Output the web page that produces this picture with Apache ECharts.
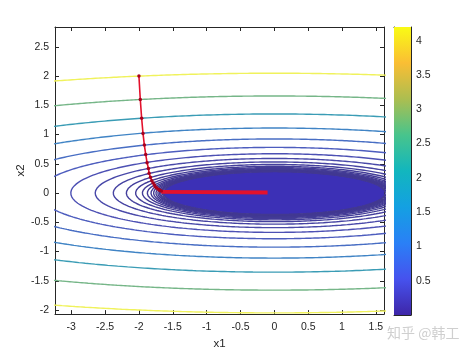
<!DOCTYPE html>
<html>
<head>
<meta charset="utf-8">
<script src="https://cdn.jsdelivr.net/npm/echarts@6/dist/echarts.min.js"></script>
<style>html,body{margin:0;padding:0;background:#fff}#c{width:474px;height:355px}</style>
</head>
<body>
<div id="c"></div>
<script>
// ---- data ----
// contour shape: f(x1,x2) = quadA*x1^2 + quadB*x2^2
const quadA = 0.05;
const quadB = 1;
// contour levels (one per visible contour line, outermost first)
const contourLevels = [4.20, 2.756, 1.830, 1.237, 0.856, 0.610, 0.452, 0.350, 0.283, 0.239,
  0.210, 0.190, 0.176, 0.166, 0.159, 0.153, 0.148, 0.144, 0.141, 0.137, 0.134];
// level bounding the solid dense region (many packed contours)
const denseLevel = [0.134];
// gradient-descent path (red)
const pathX1 = [-2.00, -1.98, -1.96, -1.94, -1.92, -1.90, -1.88, -1.86, -1.85, -1.83, -1.81,
  -1.79, -1.77, -1.76, -1.74, -1.72, -1.70, -1.69, -1.67];
const pathX2 = [2.00, 1.60, 1.28, 1.02, 0.82, 0.66, 0.52, 0.42, 0.34, 0.27, 0.21,
  0.17, 0.14, 0.11, 0.09, 0.07, 0.056, 0.045, 0.036];
const tailX1 = [-1.67, -0.10];
const tailX2 = [0.02, 0.01];
const xTicks = [-3, -2.5, -2, -1.5, -1, -0.5, 0, 0.5, 1, 1.5];
const yTicks = [-2, -1.5, -1, -0.5, 0, 0.5, 1, 1.5, 2, 2.5];
const cbTicks = [0.5, 1, 1.5, 2, 2.5, 3, 3.5, 4];
const cbMin = 0.0005;
const cbMax = 4.2;
const xRange = [-3.24, 1.62];
const yRange = [-2.07, 2.84];

// ---- colormap (parula-like) ----
const parula = [
  [0.000, [62, 38, 168]],
  [0.125, [70, 82, 238]],
  [0.250, [42, 128, 246]],
  [0.375, [20, 160, 226]],
  [0.500, [18, 182, 190]],
  [0.625, [72, 196, 140]],
  [0.750, [172, 190, 80]],
  [0.875, [250, 190, 52]],
  [1.000, [249, 251, 21]]
];
function cmapRGB(t) {
  t = Math.max(0, Math.min(1, t));
  for (let i = 0; i < parula.length - 1; i++) {
    const [t0, c0] = parula[i], [t1, c1] = parula[i + 1];
    if (t <= t1) {
      const u = (t - t0) / (t1 - t0);
      return c0.map((v, k) => v + (c1[k] - v) * u);
    }
  }
  return parula[parula.length - 1][1].slice();
}
// thin lines in the reference look muted: reduce saturation a little
function lineColor(L, sat) {
  const c = cmapRGB((L - cbMin) / (cbMax - cbMin));
  const Y = 0.299 * c[0] + 0.587 * c[1] + 0.114 * c[2];
  const m = c.map(v => Math.round(Y + (v - Y) * sat));
  return 'rgb(' + m.join(',') + ')';
}

function ellipsePts(L) {
  const rx = Math.sqrt(L / quadA), ry = Math.sqrt(L / quadB);
  const N = 1440, pts = [];
  for (let i = 0; i <= N; i++) {
    const t = 2 * Math.PI * i / N;
    pts.push([rx * Math.cos(t), ry * Math.sin(t)]);
  }
  return pts;
}

const axisCol = '#262626';
const labelFont = { fontSize: 10.5, color: axisCol, fontFamily: 'Liberation Sans, Arial, sans-serif' };

const series = [];
// dense filled region
series.push({
  type: 'custom', xAxisIndex: 0, yAxisIndex: 0, clip: true, silent: true, z: 1,
  data: denseLevel.map(L => [L]),
  renderItem: function (params, api) {
    const L = api.value(0);
    const pts = ellipsePts(L).map(p => api.coord(p));
    return { type: 'polygon', shape: { points: pts }, style: { fill: 'rgb(60,48,182)', stroke: null } };
  }
});
contourLevels.forEach(L => {
  series.push({
    type: 'line', xAxisIndex: 0, yAxisIndex: 0, showSymbol: false, clip: true, silent: true, z: 2,
    data: ellipsePts(L),
    lineStyle: { color: lineColor(L, 0.65), width: 1.4 }
  });
});
series.push({
  type: 'line', xAxisIndex: 0, yAxisIndex: 0, z: 5, silent: true,
  data: tailX1.map((v, i) => [v, tailX2[i]]),
  showSymbol: false,
  lineStyle: { color: '#e3112c', width: 3.8 }
});
series.push({
  type: 'line', xAxisIndex: 0, yAxisIndex: 0, z: 6, silent: true,
  data: pathX1.map((v, i) => [v, pathX2[i]]),
  symbol: 'circle', symbolSize: 3.5, showSymbol: true,
  itemStyle: { color: '#a8001c' },
  lineStyle: { color: '#e3112c', width: 1.6 }
});
// colorbar
const gradStops = parula.map(([t, c]) => ({ offset: t, color: 'rgb(' + c.join(',') + ')' }));
series.push({
  type: 'bar', xAxisIndex: 2, yAxisIndex: 2, barWidth: '100%', silent: true,
  data: [cbMax],
  itemStyle: { color: new echarts.graphic.LinearGradient(0, 1, 0, 0, gradStops) }
});

const tickInside = (vals) => ({ show: true, inside: true, length: 4, customValues: vals, lineStyle: { color: axisCol, width: 1 } });

const option = {
  animation: false,
  backgroundColor: '#ffffff',
  grid: [
    { left: 55, right: 90, top: 27, bottom: 40.5 },
    { left: 394, right: 63, top: 27, bottom: 40 }
  ],
  xAxis: [
    { gridIndex: 0, type: 'value', min: xRange[0], max: xRange[1], position: 'bottom',
      axisLine: { show: true, onZero: false, lineStyle: { color: axisCol } },
      axisTick: tickInside(xTicks),
      axisLabel: Object.assign({ customValues: xTicks, margin: 8 }, labelFont),
      splitLine: { show: false },
      name: 'x1', nameLocation: 'middle', nameGap: 22,
      nameTextStyle: { fontSize: 11.5, color: axisCol, fontFamily: 'Liberation Sans, Arial, sans-serif' } },
    { gridIndex: 0, type: 'value', min: xRange[0], max: xRange[1], position: 'top',
      axisLine: { show: true, onZero: false, lineStyle: { color: axisCol } },
      axisTick: tickInside(xTicks), axisLabel: { show: false }, splitLine: { show: false } },
    { gridIndex: 1, type: 'category', data: ['cb'], position: 'bottom',
      axisLine: { show: true, onZero: false, lineStyle: { color: axisCol } },
      axisTick: { show: false }, axisLabel: { show: false } },
    { gridIndex: 1, type: 'category', data: ['cb'], position: 'top',
      axisLine: { show: true, onZero: false, lineStyle: { color: axisCol } },
      axisTick: { show: false }, axisLabel: { show: false } }
  ],
  yAxis: [
    { gridIndex: 0, type: 'value', min: yRange[0], max: yRange[1], position: 'left',
      axisLine: { show: true, onZero: false, lineStyle: { color: axisCol } },
      axisTick: tickInside(yTicks),
      axisLabel: Object.assign({ customValues: yTicks, margin: 6 }, labelFont),
      splitLine: { show: false },
      name: 'x2', nameLocation: 'middle', nameGap: 28, nameMoveOverlap: false,
      nameTextStyle: { fontSize: 11.5, color: axisCol, fontFamily: 'Liberation Sans, Arial, sans-serif' } },
    { gridIndex: 0, type: 'value', min: yRange[0], max: yRange[1], position: 'right',
      axisLine: { show: true, onZero: false, lineStyle: { color: axisCol } },
      axisTick: tickInside(yTicks), axisLabel: { show: false }, splitLine: { show: false } },
    { gridIndex: 1, type: 'value', min: cbMin, max: cbMax, position: 'right',
      axisLine: { show: true, onZero: false, lineStyle: { color: axisCol } },
      axisTick: tickInside(cbTicks),
      axisLabel: Object.assign({ customValues: cbTicks, margin: 5 }, labelFont),
      splitLine: { show: false } },
    { gridIndex: 1, type: 'value', min: cbMin, max: cbMax, position: 'left',
      axisLine: { show: true, onZero: false, lineStyle: { color: axisCol } },
      axisTick: { show: false }, axisLabel: { show: false }, splitLine: { show: false } }
  ],
  graphic: [{
    type: 'text', left: 387, top: 326, silent: true,
    style: { text: '知乎 @韩工', fontSize: 14, fill: '#cfcfcf',
      fontFamily: 'Noto Sans CJK SC, sans-serif' }
  }],
  series: series
};
const chart = echarts.init(document.getElementById('c'), null, { renderer: 'canvas' });
chart.setOption(option);
</script>
</body>
</html>
